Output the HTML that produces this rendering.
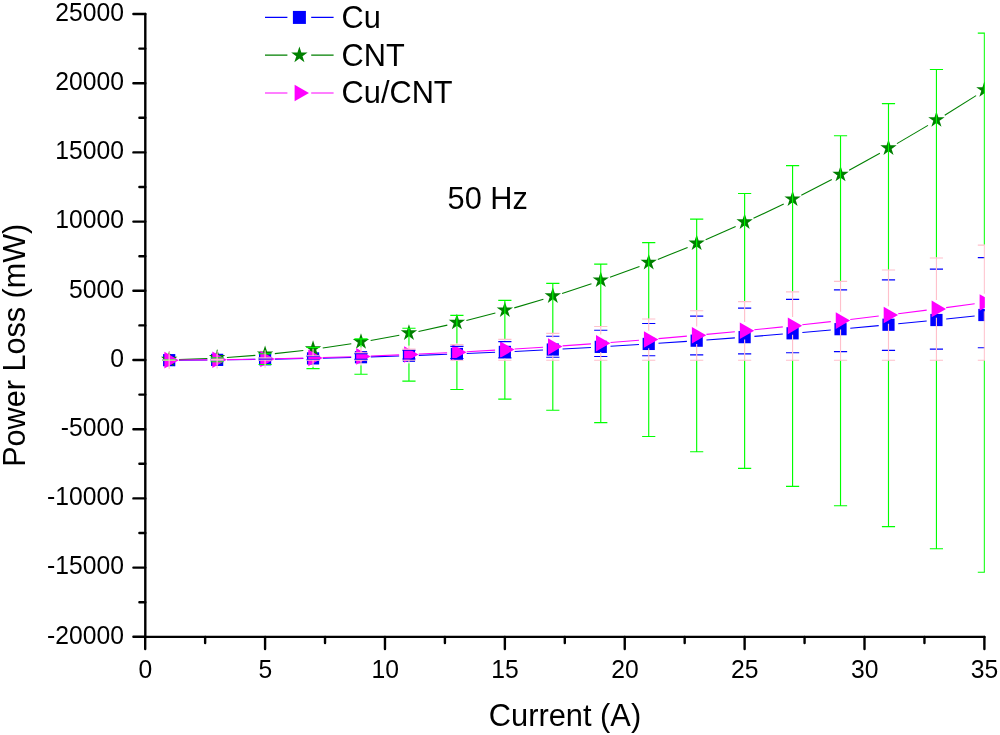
<!DOCTYPE html>
<html><head><meta charset="utf-8"><title>Power Loss vs Current</title>
<style>html,body{margin:0;padding:0;background:#fff}svg{display:block}</style></head>
<body>
<svg width="1000" height="735" viewBox="0 0 1000 735">
<rect width="1000" height="735" fill="#fff"/>
<defs><clipPath id="cp"><rect x="145.2" y="0" width="839.6500000000001" height="636.9"/></clipPath></defs>
<g clip-path="url(#cp)">
<line x1="178.98" y1="360.10" x2="207.33" y2="359.93" stroke="#0000ff" stroke-width="1.08"/>
<line x1="226.93" y1="359.75" x2="255.29" y2="359.40" stroke="#0000ff" stroke-width="1.08"/>
<line x1="274.88" y1="359.10" x2="303.24" y2="358.57" stroke="#0000ff" stroke-width="1.08"/>
<line x1="322.84" y1="358.15" x2="351.20" y2="357.45" stroke="#0000ff" stroke-width="1.08"/>
<line x1="370.79" y1="356.91" x2="399.15" y2="356.04" stroke="#0000ff" stroke-width="1.08"/>
<line x1="418.74" y1="355.37" x2="447.11" y2="354.33" stroke="#0000ff" stroke-width="1.08"/>
<line x1="466.69" y1="353.54" x2="495.06" y2="352.32" stroke="#0000ff" stroke-width="1.08"/>
<line x1="514.64" y1="351.42" x2="543.02" y2="350.02" stroke="#0000ff" stroke-width="1.08"/>
<line x1="562.59" y1="348.99" x2="590.98" y2="347.42" stroke="#0000ff" stroke-width="1.08"/>
<line x1="610.54" y1="346.28" x2="638.94" y2="344.53" stroke="#0000ff" stroke-width="1.08"/>
<line x1="658.49" y1="343.27" x2="686.89" y2="341.34" stroke="#0000ff" stroke-width="1.08"/>
<line x1="706.44" y1="339.96" x2="734.85" y2="337.86" stroke="#0000ff" stroke-width="1.08"/>
<line x1="754.39" y1="336.36" x2="782.81" y2="334.08" stroke="#0000ff" stroke-width="1.08"/>
<line x1="802.34" y1="332.46" x2="830.77" y2="330.01" stroke="#0000ff" stroke-width="1.08"/>
<line x1="850.29" y1="328.27" x2="878.73" y2="325.64" stroke="#0000ff" stroke-width="1.08"/>
<line x1="898.24" y1="323.78" x2="926.69" y2="320.98" stroke="#0000ff" stroke-width="1.08"/>
<line x1="946.19" y1="319.00" x2="974.65" y2="316.02" stroke="#0000ff" stroke-width="1.08"/>
<rect x="163.08" y="354.06" width="12.2" height="12.2" fill="#0000ff"/>
<rect x="211.03" y="353.77" width="12.2" height="12.2" fill="#0000ff"/>
<rect x="258.98" y="353.18" width="12.2" height="12.2" fill="#0000ff"/>
<rect x="306.94" y="352.29" width="12.2" height="12.2" fill="#0000ff"/>
<rect x="354.89" y="351.11" width="12.2" height="12.2" fill="#0000ff"/>
<rect x="402.85" y="349.64" width="12.2" height="12.2" fill="#0000ff"/>
<rect x="450.80" y="347.86" width="12.2" height="12.2" fill="#0000ff"/>
<rect x="498.75" y="345.80" width="12.2" height="12.2" fill="#0000ff"/>
<rect x="546.71" y="343.44" width="12.2" height="12.2" fill="#0000ff"/>
<rect x="594.66" y="340.78" width="12.2" height="12.2" fill="#0000ff"/>
<rect x="642.62" y="337.83" width="12.2" height="12.2" fill="#0000ff"/>
<rect x="690.57" y="334.58" width="12.2" height="12.2" fill="#0000ff"/>
<rect x="738.52" y="331.04" width="12.2" height="12.2" fill="#0000ff"/>
<rect x="786.48" y="327.20" width="12.2" height="12.2" fill="#0000ff"/>
<rect x="834.43" y="323.07" width="12.2" height="12.2" fill="#0000ff"/>
<rect x="882.39" y="318.64" width="12.2" height="12.2" fill="#0000ff"/>
<rect x="930.34" y="313.92" width="12.2" height="12.2" fill="#0000ff"/>
<rect x="978.29" y="308.90" width="12.2" height="12.2" fill="#0000ff"/>
<line x1="178.97" y1="359.62" x2="207.34" y2="358.58" stroke="#008000" stroke-width="1.08"/>
<line x1="226.90" y1="357.50" x2="255.31" y2="355.41" stroke="#008000" stroke-width="1.08"/>
<line x1="274.83" y1="353.62" x2="303.30" y2="350.48" stroke="#008000" stroke-width="1.08"/>
<line x1="322.73" y1="347.99" x2="351.30" y2="343.79" stroke="#008000" stroke-width="1.08"/>
<line x1="370.63" y1="340.59" x2="399.31" y2="335.33" stroke="#008000" stroke-width="1.08"/>
<line x1="418.52" y1="331.45" x2="447.33" y2="325.10" stroke="#008000" stroke-width="1.08"/>
<line x1="466.39" y1="320.55" x2="495.36" y2="313.10" stroke="#008000" stroke-width="1.08"/>
<line x1="514.26" y1="307.89" x2="543.41" y2="299.33" stroke="#008000" stroke-width="1.08"/>
<line x1="562.11" y1="293.49" x2="591.46" y2="283.78" stroke="#008000" stroke-width="1.08"/>
<line x1="609.96" y1="277.33" x2="639.52" y2="266.47" stroke="#008000" stroke-width="1.08"/>
<line x1="657.80" y1="259.42" x2="687.58" y2="247.39" stroke="#008000" stroke-width="1.08"/>
<line x1="705.64" y1="239.76" x2="735.66" y2="226.53" stroke="#008000" stroke-width="1.08"/>
<line x1="753.47" y1="218.35" x2="783.74" y2="203.90" stroke="#008000" stroke-width="1.08"/>
<line x1="801.29" y1="195.19" x2="831.82" y2="179.49" stroke="#008000" stroke-width="1.08"/>
<line x1="849.12" y1="170.28" x2="879.90" y2="153.32" stroke="#008000" stroke-width="1.08"/>
<line x1="896.94" y1="143.62" x2="927.99" y2="125.37" stroke="#008000" stroke-width="1.08"/>
<line x1="944.75" y1="115.21" x2="976.08" y2="95.65" stroke="#008000" stroke-width="1.08"/>
<polygon points="169.18,350.78 171.11,356.72 177.36,356.72 172.30,360.39 174.23,366.34 169.18,362.66 164.12,366.34 166.05,360.39 161.00,356.72 167.25,356.72" fill="#008000"/>
<polygon points="217.13,349.02 219.06,354.96 225.31,354.96 220.26,358.63 222.19,364.58 217.13,360.90 212.08,364.58 214.01,358.63 208.95,354.96 215.20,354.96" fill="#008000"/>
<polygon points="265.08,345.49 267.02,351.44 273.26,351.44 268.21,355.11 270.14,361.05 265.08,357.38 260.03,361.05 261.96,355.11 256.91,351.44 263.15,351.44" fill="#008000"/>
<polygon points="313.04,340.21 314.97,346.15 321.22,346.15 316.16,349.83 318.09,355.77 313.04,352.10 307.98,355.77 309.91,349.83 304.86,346.15 311.11,346.15" fill="#008000"/>
<polygon points="360.99,333.16 362.92,339.11 369.17,339.11 364.12,342.78 366.05,348.72 360.99,345.05 355.94,348.72 357.87,342.78 352.81,339.11 359.06,339.11" fill="#008000"/>
<polygon points="408.95,324.36 410.88,330.30 417.13,330.30 412.07,333.97 414.00,339.91 408.95,336.24 403.89,339.91 405.82,333.97 400.77,330.30 407.02,330.30" fill="#008000"/>
<polygon points="456.90,313.79 458.83,319.73 465.08,319.73 460.03,323.40 461.96,329.34 456.90,325.67 451.85,329.34 453.78,323.40 448.72,319.73 454.97,319.73" fill="#008000"/>
<polygon points="504.86,301.45 506.79,307.40 513.03,307.40 507.98,311.07 509.91,317.01 504.86,313.34 499.80,317.01 501.73,311.07 496.68,307.40 502.92,307.40" fill="#008000"/>
<polygon points="552.81,287.36 554.74,293.30 560.99,293.30 555.93,296.98 557.86,302.92 552.81,299.25 547.75,302.92 549.68,296.98 544.63,293.30 550.88,293.30" fill="#008000"/>
<polygon points="600.76,271.51 602.69,277.45 608.94,277.45 603.89,281.12 605.82,287.07 600.76,283.39 595.71,287.07 597.64,281.12 592.58,277.45 598.83,277.45" fill="#008000"/>
<polygon points="648.72,253.89 650.65,259.83 656.90,259.83 651.84,263.51 653.77,269.45 648.72,265.78 643.66,269.45 645.59,263.51 640.54,259.83 646.79,259.83" fill="#008000"/>
<polygon points="696.67,234.51 698.60,240.46 704.85,240.46 699.80,244.13 701.73,250.07 696.67,246.40 691.62,250.07 693.55,244.13 688.49,240.46 694.74,240.46" fill="#008000"/>
<polygon points="744.62,213.38 746.56,219.32 752.80,219.32 747.75,222.99 749.68,228.93 744.62,225.26 739.57,228.93 741.50,222.99 736.45,219.32 742.69,219.32" fill="#008000"/>
<polygon points="792.58,190.47 794.51,196.42 800.76,196.42 795.70,200.09 797.63,206.03 792.58,202.36 787.52,206.03 789.45,200.09 784.40,196.42 790.65,196.42" fill="#008000"/>
<polygon points="840.53,165.81 842.46,171.75 848.71,171.75 843.66,175.43 845.59,181.37 840.53,177.70 835.48,181.37 837.41,175.43 832.35,171.75 838.60,171.75" fill="#008000"/>
<polygon points="888.49,139.39 890.42,145.33 896.67,145.33 891.61,149.00 893.54,154.95 888.49,151.27 883.43,154.95 885.36,149.00 880.31,145.33 886.56,145.33" fill="#008000"/>
<polygon points="936.44,111.20 938.37,117.14 944.62,117.14 939.57,120.82 941.50,126.76 936.44,123.09 931.39,126.76 933.32,120.82 928.26,117.14 934.51,117.14" fill="#008000"/>
<polygon points="984.39,81.25 986.33,87.20 992.57,87.20 987.52,90.87 989.45,96.81 984.39,93.14 979.34,96.81 981.27,90.87 976.22,87.20 982.46,87.20" fill="#008000"/>
<line x1="178.98" y1="360.08" x2="207.33" y2="359.85" stroke="#ff00ff" stroke-width="1.08"/>
<line x1="226.93" y1="359.62" x2="255.29" y2="359.18" stroke="#ff00ff" stroke-width="1.08"/>
<line x1="274.88" y1="358.79" x2="303.24" y2="358.12" stroke="#ff00ff" stroke-width="1.08"/>
<line x1="322.83" y1="357.58" x2="351.20" y2="356.69" stroke="#ff00ff" stroke-width="1.08"/>
<line x1="370.79" y1="356.00" x2="399.15" y2="354.89" stroke="#ff00ff" stroke-width="1.08"/>
<line x1="418.74" y1="354.04" x2="447.11" y2="352.70" stroke="#ff00ff" stroke-width="1.08"/>
<line x1="466.69" y1="351.70" x2="495.07" y2="350.14" stroke="#ff00ff" stroke-width="1.08"/>
<line x1="514.64" y1="348.99" x2="543.03" y2="347.20" stroke="#ff00ff" stroke-width="1.08"/>
<line x1="562.58" y1="345.90" x2="590.99" y2="343.89" stroke="#ff00ff" stroke-width="1.08"/>
<line x1="610.53" y1="342.43" x2="638.95" y2="340.20" stroke="#ff00ff" stroke-width="1.08"/>
<line x1="658.48" y1="338.59" x2="686.91" y2="336.13" stroke="#ff00ff" stroke-width="1.08"/>
<line x1="706.43" y1="334.36" x2="734.87" y2="331.68" stroke="#ff00ff" stroke-width="1.08"/>
<line x1="754.37" y1="329.77" x2="782.83" y2="326.86" stroke="#ff00ff" stroke-width="1.08"/>
<line x1="802.32" y1="324.79" x2="830.79" y2="321.66" stroke="#ff00ff" stroke-width="1.08"/>
<line x1="850.27" y1="319.44" x2="878.75" y2="316.08" stroke="#ff00ff" stroke-width="1.08"/>
<line x1="898.21" y1="313.71" x2="926.72" y2="310.13" stroke="#ff00ff" stroke-width="1.08"/>
<line x1="946.15" y1="307.61" x2="974.68" y2="303.80" stroke="#ff00ff" stroke-width="1.08"/>
<polygon points="164.38,351.85 164.38,368.45 178.76,360.15" fill="#ff00ff"/>
<polygon points="212.34,351.48 212.34,368.08 226.72,359.78" fill="#ff00ff"/>
<polygon points="260.29,350.72 260.29,367.32 274.67,359.02" fill="#ff00ff"/>
<polygon points="308.25,349.59 308.25,366.19 322.62,357.89" fill="#ff00ff"/>
<polygon points="356.20,348.08 356.20,364.68 370.58,356.38" fill="#ff00ff"/>
<polygon points="404.15,346.20 404.15,362.80 418.53,354.50" fill="#ff00ff"/>
<polygon points="452.11,343.94 452.11,360.54 466.49,352.24" fill="#ff00ff"/>
<polygon points="500.06,341.30 500.06,357.90 514.44,349.60" fill="#ff00ff"/>
<polygon points="548.02,338.29 548.02,354.89 562.39,346.59" fill="#ff00ff"/>
<polygon points="595.97,334.90 595.97,351.50 610.35,343.20" fill="#ff00ff"/>
<polygon points="643.92,331.13 643.92,347.73 658.30,339.43" fill="#ff00ff"/>
<polygon points="691.88,326.98 691.88,343.58 706.26,335.28" fill="#ff00ff"/>
<polygon points="739.83,322.46 739.83,339.06 754.21,330.76" fill="#ff00ff"/>
<polygon points="787.79,317.56 787.79,334.16 802.16,325.86" fill="#ff00ff"/>
<polygon points="835.74,312.29 835.74,328.89 850.12,320.59" fill="#ff00ff"/>
<polygon points="883.69,306.64 883.69,323.24 898.07,314.94" fill="#ff00ff"/>
<polygon points="931.65,300.61 931.65,317.21 946.03,308.91" fill="#ff00ff"/>
<polygon points="979.60,294.20 979.60,310.80 993.98,302.50" fill="#ff00ff"/>
<path d="M162.58 360.12h13.2M162.58 360.19h13.2" stroke="#0000ff" stroke-width="1.15" fill="none"/>
<path d="M210.53 359.46h13.2M210.53 360.11h13.2" stroke="#0000ff" stroke-width="1.15" fill="none"/>
<path d="M258.48 358.15h13.2M258.48 359.94h13.2" stroke="#0000ff" stroke-width="1.15" fill="none"/>
<path d="M306.44 356.17h13.2M306.44 359.70h13.2" stroke="#0000ff" stroke-width="1.15" fill="none"/>
<path d="M354.39 353.55h13.2M354.39 359.37h13.2" stroke="#0000ff" stroke-width="1.15" fill="none"/>
<path d="M402.35 350.26h13.2M402.35 358.97h13.2" stroke="#0000ff" stroke-width="1.15" fill="none"/>
<path d="M450.30 346.32h13.2M450.30 358.48h13.2" stroke="#0000ff" stroke-width="1.15" fill="none"/>
<path d="M498.25 341.65h13.2M498.25 357.90h13.2" stroke="#0000ff" stroke-width="1.15" fill="none"/>
<path d="M546.21 336.27h13.2M546.21 357.25h13.2" stroke="#0000ff" stroke-width="1.15" fill="none"/>
<path d="M594.16 330.23h13.2M594.16 356.52h13.2" stroke="#0000ff" stroke-width="1.15" fill="none"/>
<path d="M642.12 323.51h13.2M642.12 355.70h13.2" stroke="#0000ff" stroke-width="1.15" fill="none"/>
<path d="M690.07 316.11h13.2M690.07 354.80h13.2" stroke="#0000ff" stroke-width="1.15" fill="none"/>
<path d="M738.02 308.05h13.2M738.02 353.82h13.2" stroke="#0000ff" stroke-width="1.15" fill="none"/>
<path d="M785.98 299.31h13.2M785.98 352.76h13.2" stroke="#0000ff" stroke-width="1.15" fill="none"/>
<path d="M833.93 289.91h13.2M833.93 351.62h13.2" stroke="#0000ff" stroke-width="1.15" fill="none"/>
<path d="M881.89 279.83h13.2M881.89 350.40h13.2" stroke="#0000ff" stroke-width="1.15" fill="none"/>
<path d="M929.84 269.07h13.2M929.84 349.09h13.2" stroke="#0000ff" stroke-width="1.15" fill="none"/>
<path d="M977.79 257.65h13.2M977.79 347.70h13.2" stroke="#0000ff" stroke-width="1.15" fill="none"/>
<path d="M162.58 359.94h13.2M162.58 360.37h13.2" stroke="#00ff00" stroke-width="1.15" fill="none"/>
<path d="M210.53 357.89h13.2M210.53 361.76h13.2" stroke="#00ff00" stroke-width="1.15" fill="none"/>
<path d="M258.48 353.79h13.2M258.48 364.53h13.2" stroke="#00ff00" stroke-width="1.15" fill="none"/>
<path d="M313.04 349.09V347.45M313.04 366.69V368.68M306.44 347.45h13.2M306.44 368.68h13.2" stroke="#00ff00" stroke-width="1.15" fill="none"/>
<path d="M360.99 347.58V338.90M360.99 365.18V374.22M354.39 338.90h13.2M354.39 374.22h13.2" stroke="#00ff00" stroke-width="1.15" fill="none"/>
<path d="M408.95 345.70V328.21M408.95 363.30V381.15M402.35 328.21h13.2M402.35 381.15h13.2" stroke="#00ff00" stroke-width="1.15" fill="none"/>
<path d="M456.90 343.44V315.38M456.90 361.04V389.45M450.30 315.38h13.2M450.30 389.45h13.2" stroke="#00ff00" stroke-width="1.15" fill="none"/>
<path d="M504.86 339.00V300.41M504.86 360.20V399.15M498.25 300.41h13.2M498.25 399.15h13.2" stroke="#00ff00" stroke-width="1.15" fill="none"/>
<path d="M552.81 332.98V283.30M552.81 360.20V410.23M546.21 283.30h13.2M546.21 410.23h13.2" stroke="#00ff00" stroke-width="1.15" fill="none"/>
<path d="M600.76 326.19V264.05M600.76 360.20V422.69M594.16 264.05h13.2M594.16 422.69h13.2" stroke="#00ff00" stroke-width="1.15" fill="none"/>
<path d="M648.72 318.66V242.67M648.72 360.20V436.54M642.12 242.67h13.2M642.12 436.54h13.2" stroke="#00ff00" stroke-width="1.15" fill="none"/>
<path d="M696.67 310.37V219.15M696.67 360.20V451.77M690.07 219.15h13.2M690.07 451.77h13.2" stroke="#00ff00" stroke-width="1.15" fill="none"/>
<path d="M744.62 301.32V193.49M744.62 360.20V468.39M738.02 193.49h13.2M738.02 468.39h13.2" stroke="#00ff00" stroke-width="1.15" fill="none"/>
<path d="M792.58 291.53V165.69M792.58 360.20V486.39M785.98 165.69h13.2M785.98 486.39h13.2" stroke="#00ff00" stroke-width="1.15" fill="none"/>
<path d="M840.53 280.98V135.75M840.53 360.20V505.78M833.93 135.75h13.2M833.93 505.78h13.2" stroke="#00ff00" stroke-width="1.15" fill="none"/>
<path d="M888.49 269.67V103.67M888.49 360.20V526.55M881.89 103.67h13.2M881.89 526.55h13.2" stroke="#00ff00" stroke-width="1.15" fill="none"/>
<path d="M936.44 257.62V69.46M936.44 360.20V548.71M929.84 69.46h13.2M929.84 548.71h13.2" stroke="#00ff00" stroke-width="1.15" fill="none"/>
<path d="M984.39 244.81V33.11M984.39 360.20V572.25M977.79 33.11h13.2M977.79 572.25h13.2" stroke="#00ff00" stroke-width="1.15" fill="none"/>
<path d="M169.18 351.35V360.11M169.18 368.95V360.20M162.58 360.11h13.2M162.58 360.20h13.2" stroke="#ffc0cb" stroke-width="1.15" fill="none"/>
<path d="M217.13 350.98V359.37M217.13 368.58V360.20M210.53 359.37h13.2M210.53 360.20h13.2" stroke="#ffc0cb" stroke-width="1.15" fill="none"/>
<path d="M265.08 350.22V357.90M265.08 367.82V360.20M258.48 357.90h13.2M258.48 360.20h13.2" stroke="#ffc0cb" stroke-width="1.15" fill="none"/>
<path d="M313.04 349.09V355.70M313.04 366.69V360.20M306.44 355.70h13.2M306.44 360.20h13.2" stroke="#ffc0cb" stroke-width="1.15" fill="none"/>
<path d="M360.99 347.58V352.76M360.99 365.18V360.20M354.39 352.76h13.2M354.39 360.20h13.2" stroke="#ffc0cb" stroke-width="1.15" fill="none"/>
<path d="M408.95 345.70V349.09M408.95 363.30V360.20M402.35 349.09h13.2M402.35 360.20h13.2" stroke="#ffc0cb" stroke-width="1.15" fill="none"/>
<path d="M456.90 343.44V344.63M456.90 361.04V360.20M450.30 344.63h13.2M450.30 360.20h13.2" stroke="#ffc0cb" stroke-width="1.15" fill="none"/>
<path d="M504.86 340.80V339.35M504.86 358.40V360.20M498.25 339.35h13.2M498.25 360.20h13.2" stroke="#ffc0cb" stroke-width="1.15" fill="none"/>
<path d="M552.81 337.79V333.33M552.81 355.39V360.20M546.21 333.33h13.2M546.21 360.20h13.2" stroke="#ffc0cb" stroke-width="1.15" fill="none"/>
<path d="M600.76 334.40V326.54M600.76 352.00V360.20M594.16 326.54h13.2M594.16 360.20h13.2" stroke="#ffc0cb" stroke-width="1.15" fill="none"/>
<path d="M648.72 330.63V319.01M648.72 348.23V360.20M642.12 319.01h13.2M642.12 360.20h13.2" stroke="#ffc0cb" stroke-width="1.15" fill="none"/>
<path d="M696.67 326.48V310.72M696.67 344.08V360.20M690.07 310.72h13.2M690.07 360.20h13.2" stroke="#ffc0cb" stroke-width="1.15" fill="none"/>
<path d="M744.62 321.96V301.68M744.62 339.56V360.20M738.02 301.68h13.2M738.02 360.20h13.2" stroke="#ffc0cb" stroke-width="1.15" fill="none"/>
<path d="M792.58 317.06V291.88M792.58 334.66V360.20M785.98 291.88h13.2M785.98 360.20h13.2" stroke="#ffc0cb" stroke-width="1.15" fill="none"/>
<path d="M840.53 311.79V281.33M840.53 329.39V360.20M833.93 281.33h13.2M833.93 360.20h13.2" stroke="#ffc0cb" stroke-width="1.15" fill="none"/>
<path d="M888.49 306.14V270.02M888.49 323.74V360.20M881.89 270.02h13.2M881.89 360.20h13.2" stroke="#ffc0cb" stroke-width="1.15" fill="none"/>
<path d="M936.44 300.11V257.97M936.44 317.71V360.20M929.84 257.97h13.2M929.84 360.20h13.2" stroke="#ffc0cb" stroke-width="1.15" fill="none"/>
<path d="M984.39 293.70V245.16M984.39 311.30V360.20M977.79 245.16h13.2M977.79 360.20h13.2" stroke="#ffc0cb" stroke-width="1.15" fill="none"/>
</g>
<g stroke="#000" stroke-width="2.4" stroke-linecap="round" fill="none">
<path d="M145.29999999999998 14.0V636.9H984.4"/>
<path d="M145.29999999999998 14.00h-11.9M145.29999999999998 48.60h-5.9M145.29999999999998 83.20h-11.9M145.29999999999998 117.80h-5.9M145.29999999999998 152.40h-11.9M145.29999999999998 187.00h-5.9M145.29999999999998 221.60h-11.9M145.29999999999998 256.20h-5.9M145.29999999999998 290.80h-11.9M145.29999999999998 325.40h-5.9M145.29999999999998 360.00h-11.9M145.29999999999998 394.60h-5.9M145.29999999999998 429.20h-11.9M145.29999999999998 463.80h-5.9M145.29999999999998 498.40h-11.9M145.29999999999998 533.00h-5.9M145.29999999999998 567.60h-11.9M145.29999999999998 602.20h-5.9M145.29999999999998 636.80h-11.9M145.20 636.9v12.1M205.14 636.9v6.2M265.08 636.9v12.1M325.03 636.9v6.2M384.97 636.9v12.1M444.91 636.9v6.2M504.86 636.9v12.1M564.80 636.9v6.2M624.74 636.9v12.1M684.68 636.9v6.2M744.62 636.9v12.1M804.57 636.9v6.2M864.51 636.9v12.1M924.45 636.9v6.2M984.39 636.9v12.1"/>
</g>
<g font-family="'Liberation Sans', sans-serif" fill="#000">
<text transform="translate(123.90 20.80) scale(1 1.025)" font-size="24.7" text-anchor="end">25000</text>
<text transform="translate(123.90 90.00) scale(1 1.025)" font-size="24.7" text-anchor="end">20000</text>
<text transform="translate(123.90 159.20) scale(1 1.025)" font-size="24.7" text-anchor="end">15000</text>
<text transform="translate(123.90 228.40) scale(1 1.025)" font-size="24.7" text-anchor="end">10000</text>
<text transform="translate(123.90 297.60) scale(1 1.025)" font-size="24.7" text-anchor="end">5000</text>
<text transform="translate(123.90 366.80) scale(1 1.025)" font-size="24.7" text-anchor="end">0</text>
<text transform="translate(123.90 436.00) scale(1 1.025)" font-size="24.7" text-anchor="end">-5000</text>
<text transform="translate(123.90 505.20) scale(1 1.025)" font-size="24.7" text-anchor="end">-10000</text>
<text transform="translate(123.90 574.40) scale(1 1.025)" font-size="24.7" text-anchor="end">-15000</text>
<text transform="translate(123.90 643.60) scale(1 1.025)" font-size="24.7" text-anchor="end">-20000</text>
<text transform="translate(145.40 677.70) scale(1 1.025)" font-size="24.7" text-anchor="middle">0</text>
<text transform="translate(265.28 677.70) scale(1 1.025)" font-size="24.7" text-anchor="middle">5</text>
<text transform="translate(385.17 677.70) scale(1 1.025)" font-size="24.7" text-anchor="middle">10</text>
<text transform="translate(505.06 677.70) scale(1 1.025)" font-size="24.7" text-anchor="middle">15</text>
<text transform="translate(624.94 677.70) scale(1 1.025)" font-size="24.7" text-anchor="middle">20</text>
<text transform="translate(744.83 677.70) scale(1 1.025)" font-size="24.7" text-anchor="middle">25</text>
<text transform="translate(864.71 677.70) scale(1 1.025)" font-size="24.7" text-anchor="middle">30</text>
<text transform="translate(984.60 677.70) scale(1 1.025)" font-size="24.7" text-anchor="middle">35</text>
<text transform="translate(565.00 726.00) scale(1 1.0)" font-size="30.8" text-anchor="middle">Current (A)</text>
<text transform="translate(25.10 345.30) rotate(-90) scale(1 1.0)" font-size="30.6" text-anchor="middle">Power Loss (mW)</text>
<text transform="translate(447.60 209.00) scale(1 1.0)" font-size="30.7">50 Hz</text>
<text transform="translate(341.60 27.60) scale(1 1.0)" font-size="30.75">Cu</text>
<text transform="translate(341.60 65.70) scale(1 1.0)" font-size="30.75">CNT</text>
<text transform="translate(341.60 103.30) scale(1 1.0)" font-size="30.75">Cu/CNT</text>
</g>
<path d="M265 17.42h22.4M311.2 17.42h22.4" stroke="#0000ff" stroke-width="1.15"/>
<rect x="292.90" y="10.92" width="13.0" height="13.0" fill="#0000ff"/>
<path d="M265 55.19h22.4M311.2 55.19h22.4" stroke="#008000" stroke-width="1.15"/>
<polygon points="299.40,46.59 301.33,52.53 307.58,52.53 302.52,56.21 304.45,62.15 299.40,58.48 294.35,62.15 296.28,56.21 291.22,52.53 297.47,52.53" fill="#008000"/>
<path d="M265 92.96h22.4M311.2 92.96h22.4" stroke="#ff00ff" stroke-width="1.15"/>
<polygon points="294.61,84.66 294.61,101.26 308.98,92.96" fill="#ff00ff"/>
</svg>
</body></html>
